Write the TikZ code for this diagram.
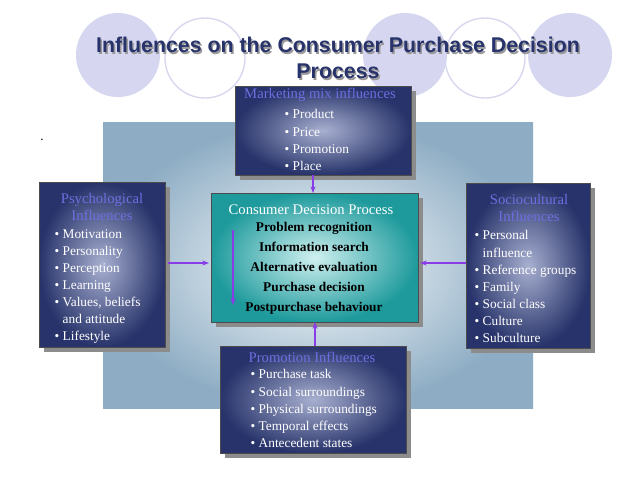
\documentclass[tikz,border=0pt]{standalone}
\usepackage{fontspec}
\setmainfont{Liberation Serif}
\newfontfamily\titlefont{Liberation Sans}
\usetikzlibrary{arrows.meta,shadows}
\definecolor{navy}{HTML}{27336A}
\definecolor{navyin}{HTML}{A8B0D0}
\definecolor{tealout}{HTML}{1E9A9C}
\definecolor{tealin}{HTML}{D0F0F0}
\definecolor{lav}{HTML}{D6D6F0}
\definecolor{hdr}{HTML}{6E6EE0}
\definecolor{arr}{HTML}{8A3CE6}
\definecolor{bgout}{HTML}{8EADC4}
\definecolor{bgin}{HTML}{FAFCFD}
\begin{document}
\begin{tikzpicture}[x=0.75pt,y=-0.75pt,
 box/.style={draw=black!70,line width=0.6pt,inner color=navyin,outer color=navy,drop shadow={shadow xshift=4pt,shadow yshift=-4pt,fill=black!45,opacity=1}},
 hd/.style={text=hdr,font=\fontsize{11}{13}\selectfont,align=center},
 it/.style={text=white,font=\fontsize{10}{12.8}\selectfont,align=left,anchor=north west},
 cp/.style={font=\bfseries\fontsize{10}{15}\selectfont,align=center},
 ar/.style={arr,line width=1.2pt,-{Stealth[length=5pt]}}]
\useasboundingbox (0,0) rectangle (640,480);
\fill[white] (0,0) rectangle (640,480);
% circles
\foreach \cx/\f in {118/1,205/0,405/1,485/0,570/1}{
 \ifnum\f=1 \fill[lav] (\cx,55) circle[radius=42];
 \else \draw[lav,line width=1pt] (\cx,58) circle[radius=40]; \fi}
% title
\node[font=\titlefont\bfseries\fontsize{16}{19.5}\selectfont,text=black!40,align=center] at (339.5,59.5) {Influences on the Consumer Purchase Decision\\Process};
\node[font=\titlefont\bfseries\fontsize{16}{19.5}\selectfont,text=navy,align=center] (title) at (338,58) {Influences on the Consumer Purchase Decision\\Process};
\node (dot) at (42,140) {.};
% background
\shade[inner color=bgin,outer color=bgout] (103,122) rectangle (533,408);
% boxes
\draw[box] (235,86) rectangle (411,175);
\draw[box] (39,182) rectangle (165,347);
\draw[box] (466,183) rectangle (590,348);
\draw[box] (220,346) rectangle (406,453);
\draw[draw=black!70,line width=0.6pt,inner color=tealin,outer color=tealout,drop shadow={shadow xshift=4pt,shadow yshift=-4pt,fill=black!45,opacity=1}] (211,193) rectangle (418,322);
\coordinate (mkB) at (313,175); \coordinate (cT) at (313,193);
\coordinate (psR) at (168,263); \coordinate (cL) at (209,263);
\coordinate (soL) at (466,263); \coordinate (cR) at (420,263);
\coordinate (prT) at (315,346); \coordinate (cB) at (315,322);
\coordinate (i1) at (233,230); \coordinate (i2) at (233,305);
% texts
\node[hd] (mkh) at (320,95) {Marketing mix influences};
\node[it] (mki) at (280,105) {\textbullet\ Product\\\textbullet\ Price\\\textbullet\ Promotion\\\textbullet\ Place};
\node[hd] (psh) at (102,207) {Psychological\\Influences};
\node[it] (psi) at (50,225) {\textbullet\ Motivation\\\textbullet\ Personality\\\textbullet\ Perception\\\textbullet\ Learning\\\textbullet\ Values, beliefs\\\phantom{\textbullet\ }and attitude\\\textbullet\ Lifestyle};
\node[hd] (soh) at (529,208) {Sociocultural\\Influences};
\node[it] (soi) at (470,226) {\textbullet\ Personal\\\phantom{\textbullet\ }influence\\\textbullet\ Reference groups\\\textbullet\ Family\\\textbullet\ Social class\\\textbullet\ Culture\\\textbullet\ Subculture};
\node[hd] (prh) at (312,357) {Promotion Influences};
\node[it] (pri) at (246,365) {\textbullet\ Purchase task\\\textbullet\ Social surroundings\\\textbullet\ Physical surroundings\\\textbullet\ Temporal effects\\\textbullet\ Antecedent states};
\node[text=white,font=\fontsize{11}{13}\selectfont] (cph) at (311,210) {Consumer Decision Process};
\node[cp] (cps) at (314,268) {Problem recognition\\Information search\\Alternative evaluation\\Purchase decision\\Postpurchase behaviour};
% arrows
\draw[ar] (mkB) -- (cT);
\draw[ar] (psR) -- (cL);
\draw[ar] (soL) -- (cR);
\draw[ar] (prT) -- (cB);
\draw[ar] (i1) -- (i2);
\end{tikzpicture}
\end{document}
